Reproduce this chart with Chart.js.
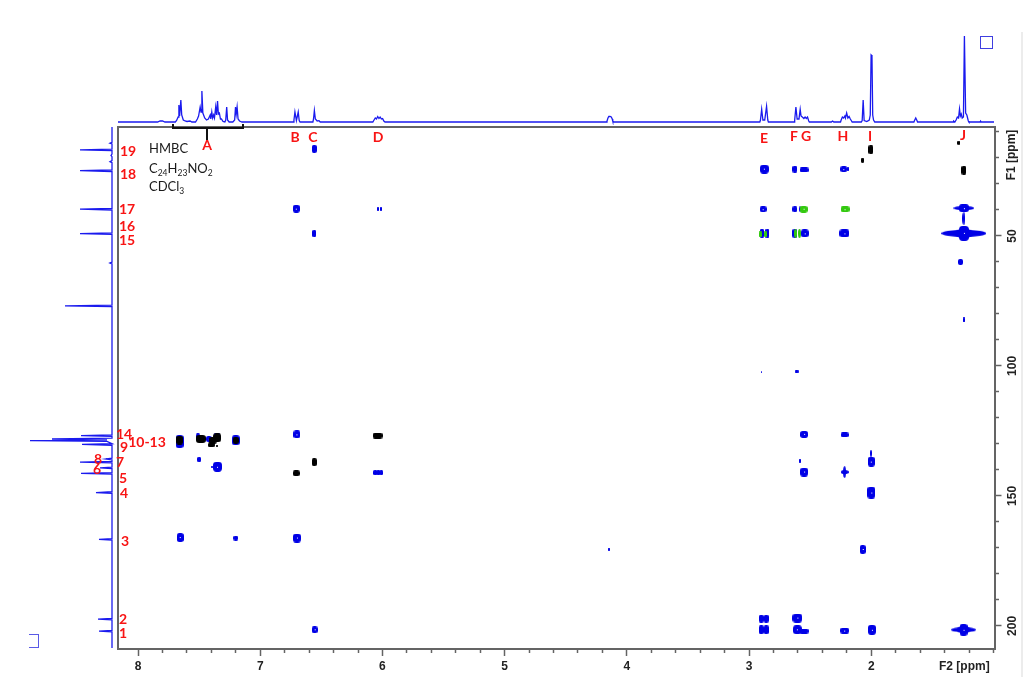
<!DOCTYPE html>
<html>
<head>
<meta charset="utf-8">
<title>HMBC</title>
<script src="https://cdn.jsdelivr.net/npm/chart.js@4"></script>
<style>
  html, body { margin: 0; padding: 0; background: #fff; }
  #page { position: relative; width: 1029px; height: 687px; overflow: hidden; }
  canvas { position: absolute; display: block; }
  #main { left: 0; top: 0; }
  #proton { left: 118px; top: 25px; }
  #carbon { left: 25px; top: 127px; }
  #frame { position: absolute; left: 117px; top: 126px; width: 875px; height: 520px; border: 2px solid #646464; }
  .hline, .vline { position: absolute; background: #111; }
  .red { position: absolute; transform: translate(-50%, -50%); color: #f81414; font: bold 14px Lato, sans-serif; white-space: nowrap; }
  .note { position: absolute; left: 149px; color: #1a1a1a; font: 13px Lato, sans-serif; line-height: 16px; white-space: nowrap; }
  .note sub { font-size: 8.5px; line-height: 0; vertical-align: -3px; }
  .axisname { position: absolute; color: #222; font: bold 12px "Liberation Sans", sans-serif; white-space: nowrap; }
  #f1name { left: 1011px; top: 155px; transform: translate(-50%, -50%) rotate(-90deg); }
  #f2name { left: 939px; top: 659px; }
  #stripe { position: absolute; left: 1021px; top: 32px; width: 2px; height: 645px; background: #ececec; }
  #boxTop { position: absolute; left: 980px; top: 36px; width: 11px; height: 11px; border: 1.5px solid #3f3fe0; }
  #boxLeft { position: absolute; left: 29px; top: 634px; width: 9px; height: 12px; border: 1.5px solid #5a5ae6; border-left: none; }
</style>
</head>
<body>
<div id="page">
  <canvas id="main" width="1029" height="687"></canvas>
  <canvas id="proton" width="876" height="100"></canvas>
  <canvas id="carbon" width="90" height="521"></canvas>
  <div id="frame"></div>
  <div class="hline" style="left:172px;top:127px;width:72px;height:2px"></div>
  <div class="vline" style="left:172px;top:124px;width:2px;height:5px"></div>
  <div class="vline" style="left:242px;top:124px;width:2px;height:5px"></div>
  <div class="vline" style="left:206px;top:127px;width:2px;height:13px"></div>
  <div class="note" style="top:140px">HMBC</div>
  <div class="note" style="top:160px">C<sub>24</sub>H<sub>23</sub>NO<sub>2</sub></div>
  <div class="note" style="top:178px">CDCl<sub>3</sub></div>
  <div class="axisname" id="f1name">F1 [ppm]</div>
  <div class="axisname" id="f2name">F2 [ppm]</div>
  <div id="stripe"></div>
  <div id="boxTop"></div>
  <div id="boxLeft"></div>
</div>

<script>
// 1H projection along the top: shift in ppm and intensity
const protonShift = [
  8.164, 7.84, 7.82, 7.80, 7.78,
  7.695, 7.685, 7.672, 7.666, 7.66, 7.65, 7.643, 7.63, 7.615, 7.60, 7.575, 7.56,
  7.53, 7.515, 7.505, 7.492, 7.485, 7.478, 7.47, 7.455, 7.44, 7.425, 7.41, 7.405, 7.397, 7.39, 7.382, 7.375,
  7.365, 7.358, 7.35, 7.343, 7.335, 7.326, 7.318, 7.305, 7.29, 7.283, 7.275, 7.268, 7.255,
  7.225, 7.21, 7.203, 7.197, 7.19, 7.182, 7.17, 7.15,
  6.73, 6.725, 6.717, 6.705, 6.69, 6.682, 6.675,
  6.57, 6.565, 6.558, 6.55, 6.535, 6.52, 6.51,
  6.08, 6.07, 6.06, 6.05, 6.04, 6.03, 6.02, 6.01, 6.0, 5.99, 5.98,
  4.17, 4.165, 4.157, 4.15, 4.14, 4.13, 4.122, 4.118, 4.11,
  2.915, 2.91, 2.90, 2.89, 2.875, 2.86, 2.85, 2.845,
  2.635, 2.63, 2.62, 2.61, 2.595, 2.585, 2.578, 2.568, 2.555, 2.545, 2.535, 2.525, 2.515, 2.51,
  2.33, 2.32, 2.31,
  2.255, 2.25, 2.24, 2.23, 2.22, 2.215, 2.205, 2.195, 2.185, 2.175, 2.165, 2.16,
  2.085, 2.078, 2.07, 2.062, 2.04, 2.02, 2.012, 2.005, 1.998, 1.992, 1.985, 1.975,
  1.655, 1.65, 1.64, 1.63, 1.625,
  1.335, 1.33, 1.32, 1.31, 1.30, 1.29, 1.282, 1.275, 1.268, 1.26, 1.25, 1.242, 1.232, 1.222, 1.21, 1.205,
  1.115, 1.11, 1.105, 1.0
];
const protonIntensity = [
  0, 0, 1, 1, 0,
  0, 1.5, 5, 17, 6, 22, 7, 2, 1, 0.5, 1, 0,
  0, 3, 6, 15, 10, 31, 9, 4, 2, 3, 7, 3, 10, 4, 7, 4,
  15, 7, 21, 8, 9, 3, 3, 0.5, 0, 2, 15, 2, 0,
  0, 2, 15, 8, 15, 3, 1, 0,
  0, 2, 10, 1.5, 10, 1.5, 0,
  0, 3, 11.5, 3, 1, 1.3, 0,
  0, 2, 4, 3, 5.5, 3.5, 5, 3, 3.5, 1, 0,
  0, 1, 4, 5.5, 5.5, 5, 3, 1, 0,
  0, 2, 12.7, 2, 2, 15.7, 2, 0,
  0, 2, 15, 3, 3, 12.7, 6, 5, 3.5, 5, 3.5, 5, 1, 0,
  0, 1, 0,
  0, 2, 5, 4, 6, 4, 9, 4, 5.5, 3, 1, 0,
  0, 1.5, 22, 1.5, 0.5, 2, 7, 67, 66, 7, 2, 0,
  0, 1.5, 4, 1.5, 0,
  0, 1, 0, 2, 5, 4, 13, 6, 8, 4, 5, 86, 9, 7, 1, 0,
  0, 1, 0, 0
];

// 13C projection down the left side
const carbonShift = [
  8.08, 14, 14.3, 14.6, 16.6, 16.9, 17.2, 18.5, 19, 19.5, 21, 21.4, 21.8, 24.6, 24.9, 25.2,
  39.4, 39.7, 40, 48.8, 49.1, 49.4, 60.1, 60.4, 60.7, 76.6, 76.9, 77.2,
  126.5, 126.8, 127.1, 127.8, 128.1, 128.4, 128.7, 129, 129.9, 130.2, 130.5,
  135.5, 135.8, 136.1, 136.7, 137, 137.3, 138.9, 139.2, 139.5, 141, 141.3, 141.6,
  148.4, 148.7, 149, 166.4, 166.7, 167, 197.1, 197.4, 197.7, 201.7, 202, 202.3, 208.5
];
const carbonIntensity = [
  0, 0, 2, 0, 0, 32, 0, 0, 1, 0, 0, 2, 0, 0, 32, 0,
  0, 32, 0, 0, 32, 0, 0, 2, 0, 0, 47, 0,
  0, 31, 0, 0, 60, 5, 82, 5, 0, 30, 0,
  0, 6, 0, 0, 32, 0, 0, 12, 0, 0, 31, 0,
  0, 16, 0, 0, 13, 0, 0, 14, 0, 0, 13, 0, 0
];

// cross peaks, one array each for F2, F1 and the contour extent in ppm
const blueF2 = [
  6.558, 6.705, 6.04, 6.013, 6.558,
  7.66, 7.51, 7.42, 7.352, 7.20, 6.70, 7.50, 7.35, 7.395, 6.06, 6.035, 6.01,
  7.655, 7.20, 6.70, 6.555,
  2.875, 2.625, 2.55, 2.225, 2.19, 2.885, 2.625, 2.585, 2.895, 2.85, 2.625, 2.545, 2.22,
  1.242, 1.242, 1.242, 1.242, 1.242, 1.242,
  2.55, 2.218, 2.585, 2.55, 2.218, 2.218, 2.0, 2.0, 2.0, 2.07, 4.15,
  2.90, 2.86, 2.90, 2.86, 2.605, 2.605, 2.55, 2.218, 1.995, 1.245, 1.245, 1.245,
  1.27, 1.245, 2.90, 2.61
];
const blueF1 = [
  16.5, 39.5, 39.6, 39.6, 49,
  129.1, 126.9, 128.1, 126.6, 128.6, 126.3, 135.9, 138.8, 138.8, 141, 141, 141,
  166, 166.2, 166.2, 201.5,
  24.3, 24.3, 24.6, 24.3, 24.3, 39.7, 39.7, 39.7, 48.9, 48.9, 49, 49, 49,
  39.3, 39.3, 43.3, 49, 49, 49,
  126.3, 126.5, 136.5, 140.8, 140.8, 140.8, 136.8, 133.6, 148.7, 170.6, 170.5,
  197.2, 197.2, 201.5, 201.5, 197, 201.5, 202, 201.8, 201.5, 201.5, 201.5, 201.5,
  60, 82.3, 102.3, 102.3
];
const blueWidth = [
  0.045, 0.061, 0.018, 0.018, 0.03,
  0.065, 0.033, 0.05, 0.05, 0.065, 0.058, 0.033, 0.074, 0.016, 0.03, 0.03, 0.03,
  0.058, 0.042, 0.065, 0.05,
  0.074, 0.037, 0.074, 0.06, 0.014, 0.058, 0.038, 0.014, 0.035, 0.035, 0.04, 0.065, 0.082,
  0.175, 0.08, 0.025, 0.37, 0.165, 0.08,
  0.065, 0.065, 0.016, 0.065, 0.065, 0.025, 0.058, 0.02, 0.065, 0.05, 0.016,
  0.041, 0.041, 0.041, 0.041, 0.082, 0.074, 0.074, 0.074, 0.065, 0.205, 0.115, 0.065,
  0.04, 0.016, 0.012, 0.033
];
const blueHeight = [
  3.1, 3.1, 1.4, 1.4, 2.7,
  5, 1.9, 2.3, 2, 3.8, 3.1, 1.9, 3.8, 0.8, 1.9, 1.9, 1.9,
  3.5, 1.9, 3.5, 2.7,
  3.5, 2.7, 1.9, 2.4, 1.5, 2.4, 2.4, 2.4, 3.3, 3.3, 3.5, 3.1, 3.1,
  1.6, 3.1, 5, 2.7, 3.6, 5.8,
  2.7, 1.9, 1.4, 3.5, 1.6, 4.6, 3.8, 2.7, 4.6, 3.5, 1.2,
  3.1, 3.1, 3.5, 3.5, 3.5, 3.5, 1.9, 2.3, 3.8, 1.9, 2.7, 4.6,
  2.3, 1.9, 0.8, 1.2
];

const greenF2 = [2.554, 2.215, 2.91, 2.865, 2.62, 2.587];
const greenF1 = [39.7, 39.7, 49.4, 49.4, 49, 49];
const greenWidth = [0.068, 0.074, 0.025, 0.025, 0.028, 0.028];
const greenHeight = [2.7, 2.5, 2.3, 2.3, 3.3, 3.3];

const blackF2 = [
  7.66, 7.486, 7.385, 7.40, 7.352, 7.352, 7.2, 6.04,
  6.558, 6.705, 2.003, 2.07, 1.283, 1.242
];
const blackF1 = [
  128.5, 128.1, 128.5, 130.4, 127.6, 130.7, 128.6, 126.8,
  137, 141.3, 16.8, 20.9, 14.2, 24.7
];
const blackWidth = [
  0.057, 0.078, 0.065, 0.057, 0.065, 0.016, 0.05, 0.082,
  0.041, 0.057, 0.041, 0.025, 0.025, 0.041
];
const blackHeight = [
  3.5, 3.1, 2.7, 1.9, 3.5, 0.8, 2.7, 2.3,
  3.1, 2.3, 3.5, 1.9, 1.5, 3.5
];

const f2Range = [1.0, 8.164];
const f1Range = [8.08, 208.5];

const xMajor = [8, 7, 6, 5, 4, 3, 2];
const yMajor = [50, 100, 150, 200];

const carbonNames = [
  ["19", 128, 150], ["18", 128, 173], ["17", 127, 208], ["16", 127, 225], ["15", 127, 239],
  ["14", 124, 433], ["10-13", 147, 441], ["9", 124, 446], ["8", 98, 458], ["7", 120, 461],
  ["6", 97, 468], ["5", 123, 477], ["4", 124, 492], ["3", 125, 540], ["2", 123, 618], ["1", 123, 632]
];
const protonNames = [
  ["A", 207, 144], ["B", 295, 136], ["C", 313, 136], ["D", 378, 136], ["E", 764, 137],
  ["F", 794, 135], ["G", 806, 135], ["H", 843, 135], ["I", 870, 135], ["J", 963, 134]
];

const page = document.getElementById("page");
[...carbonNames, ...protonNames].forEach(([text, left, top]) => {
  const el = document.createElement("div");
  el.className = "red";
  el.textContent = text;
  el.style.left = left + "px";
  el.style.top = top + "px";
  page.appendChild(el);
});

function toPeaks(f2, f1, width, height) {
  return f2.map((x, i) => ({ x: x, y: f1[i], w: width[i], h: height[i] }));
}

// contour blobs are small sprites sized through the axes, so chart.js still places them
const sprites = {};
function contourSprite(context, color) {
  const { x: xScale, y: yScale } = context.chart.scales;
  const raw = context.raw;
  const w = Math.max(1, Math.round(Math.abs(xScale.getPixelForValue(raw.x + raw.w) - xScale.getPixelForValue(raw.x))));
  const h = Math.max(1, Math.round(Math.abs(yScale.getPixelForValue(raw.y + raw.h) - yScale.getPixelForValue(raw.y))));
  const key = color + w + "x" + h;
  if (sprites[key]) return sprites[key];

  const sprite = document.createElement("canvas");
  sprite.width = w;
  sprite.height = h;
  const c = sprite.getContext("2d");
  c.fillStyle = color;
  c.beginPath();
  if (w > h * 1.8 || h > w * 2.5) {
    c.ellipse(w / 2, h / 2, w / 2, h / 2, 0, 0, Math.PI * 2);
  } else {
    c.roundRect(0, 0, w, h, Math.min(w, h) * 0.38);
  }
  c.fill();
  if (w >= 6 && h >= 6 && color !== "#000000") {
    c.fillStyle = "#ffffff";
    c.fillRect(Math.floor(w / 2), Math.floor(h / 2), 1, 1);
  }
  sprites[key] = sprite;
  return sprite;
}

function peakDataset(data, color) {
  return {
    data: data,
    showLine: false,
    pointRadius: 1,
    pointStyle: (context) => contourSprite(context, color),
  };
}

const tickColor = "#646464";
const axisFont = { family: "'Liberation Sans', sans-serif", size: 12, weight: "bold" };

new Chart(document.getElementById("main"), {
  type: "scatter",
  data: {
    // chart.js paints the first dataset last, so black ends up on top
    datasets: [
      peakDataset(toPeaks(blackF2, blackF1, blackWidth, blackHeight), "#000000"),
      peakDataset(toPeaks(greenF2, greenF1, greenWidth, greenHeight), "#33c90f"),
      peakDataset(toPeaks(blueF2, blueF1, blueWidth, blueHeight), "#0000e6"),
    ],
  },
  options: {
    responsive: false,
    animation: false,
    layout: { padding: { left: 118, top: 127, right: 0, bottom: 0 } },
    plugins: { legend: { display: false }, tooltip: { enabled: false } },
    scales: {
      x: {
        type: "linear",
        reverse: true,
        min: f2Range[0],
        max: f2Range[1],
        afterFit: (scale) => { scale.height = 39; },
        border: { display: false },
        grid: {
          drawOnChartArea: false,
          tickLength: 8,
          tickColor: tickColor,
          tickWidth: 1.5,
          // short ticks every 0.2 ppm, long ones on whole numbers
          tickBorderDash: (ctx) => xMajor.includes(Math.round(ctx.tick.value * 10) / 10) ? [] : [5, 20],
        },
        ticks: {
          stepSize: 0.2,
          includeBounds: false,
          autoSkip: false,
          maxRotation: 0,
          padding: 3,
          color: "#222",
          font: axisFont,
          callback: (value) => {
            const v = Math.round(value * 10) / 10;
            return xMajor.includes(v) ? String(v) : "";
          },
        },
      },
      y: {
        type: "linear",
        position: "right",
        reverse: true,
        min: f1Range[0],
        max: f1Range[1],
        afterFit: (scale) => { scale.width = 35.5; },
        border: { display: false },
        grid: {
          drawOnChartArea: false,
          tickLength: 8,
          tickColor: tickColor,
          tickWidth: 1.5,
          tickBorderDash: (ctx) => yMajor.includes(Math.round(ctx.tick.value)) ? [] : [5, 20],
        },
        ticks: {
          stepSize: 10,
          includeBounds: false,
          autoSkip: false,
          minRotation: 90,
          padding: 1,
          crossAlign: "center",
          color: "#222",
          font: axisFont,
          callback: (value) => {
            const v = Math.round(value);
            return yMajor.includes(v) ? String(v) : "";
          },
        },
      },
    },
  },
});

// top projection shares the F2 range
new Chart(document.getElementById("proton"), {
  type: "scatter",
  data: {
    datasets: [{
      data: protonShift.map((x, i) => ({ x: x, y: protonIntensity[i] })),
      showLine: true,
      pointRadius: 0,
      borderWidth: 1.3,
      borderColor: "#1a1aee",
      clip: false,
    }],
  },
  options: {
    responsive: false,
    animation: false,
    plugins: { legend: { display: false }, tooltip: { enabled: false } },
    scales: {
      x: { type: "linear", reverse: true, display: false, min: f2Range[0], max: f2Range[1] },
      y: { type: "linear", display: false, min: -3, max: 97 },
    },
  },
});

// left projection shares the F1 range
new Chart(document.getElementById("carbon"), {
  type: "scatter",
  data: {
    datasets: [{
      data: carbonShift.map((y, i) => ({ x: carbonIntensity[i], y: y })),
      showLine: true,
      pointRadius: 0,
      borderWidth: 1.3,
      borderColor: "#1a1aee",
      clip: false,
    }],
  },
  options: {
    responsive: false,
    animation: false,
    plugins: { legend: { display: false }, tooltip: { enabled: false } },
    scales: {
      x: { type: "linear", reverse: true, display: false, min: -3, max: 87 },
      y: { type: "linear", reverse: true, display: false, min: f1Range[0], max: f1Range[1] },
    },
  },
});
</script>
</body>
</html>
